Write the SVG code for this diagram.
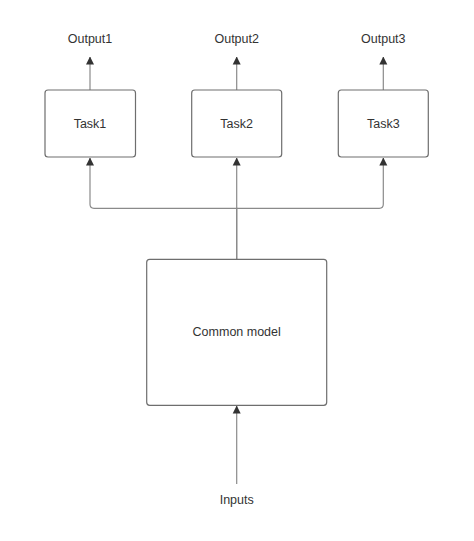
<svg xmlns="http://www.w3.org/2000/svg" width="474" height="541" viewBox="0 0 474 541">
<style>
.box{fill:#ffffff;stroke:#6e6e6e;stroke-width:1.2}
.ln{fill:none;stroke:#8a8a8a;stroke-width:1.2}
.t{font-family:"Liberation Sans",Arial,sans-serif;font-size:12.5px;fill:#333333;text-anchor:middle}
</style>
<defs>
<marker id="ah" markerWidth="8" markerHeight="10" refX="7.5" refY="4" orient="auto" markerUnits="userSpaceOnUse" viewBox="0 0 8 8">
<path d="M0,0 L8,4 L0,8 Z" fill="#333333"/>
</marker>
</defs>
<rect width="474" height="541" fill="#ffffff"/>
<g id="connectors">
<path class="ln" d="M236.7,259 V208.3 H94 Q90,208.3 90,204.3 V158" marker-end="url(#ah)"/>
<path class="ln" d="M236.7,259 V158" marker-end="url(#ah)"/>
<path class="ln" d="M236.7,208.3 H379.3 Q383.3,208.3 383.3,204.3 V158" marker-end="url(#ah)"/>
<path class="ln" d="M90,90 V57" marker-end="url(#ah)"/>
<path class="ln" d="M236.7,90 V57" marker-end="url(#ah)"/>
<path class="ln" d="M383.3,90 V57" marker-end="url(#ah)"/>
<path class="ln" d="M236.7,484 V406" marker-end="url(#ah)"/>
</g>
<g id="task1"><rect class="box" x="45" y="90" width="90.5" height="67" rx="3"/><text class="t" x="90" y="128">Task1</text></g>
<g id="task2"><rect class="box" x="191.7" y="90" width="90" height="67" rx="3"/><text class="t" x="236.7" y="128">Task2</text></g>
<g id="task3"><rect class="box" x="338.3" y="90" width="90" height="67" rx="3"/><text class="t" x="383.3" y="128">Task3</text></g>
<g id="common"><rect class="box" x="146.7" y="259.3" width="180" height="146" rx="3"/><text class="t" x="236.7" y="336">Common model</text></g>
<g id="output1"><text class="t" x="90" y="43">Output1</text></g>
<g id="output2"><text class="t" x="236.7" y="43">Output2</text></g>
<g id="output3"><text class="t" x="383.3" y="43">Output3</text></g>
<g id="inputs"><text class="t" x="236.7" y="504">Inputs</text></g>
</svg>
